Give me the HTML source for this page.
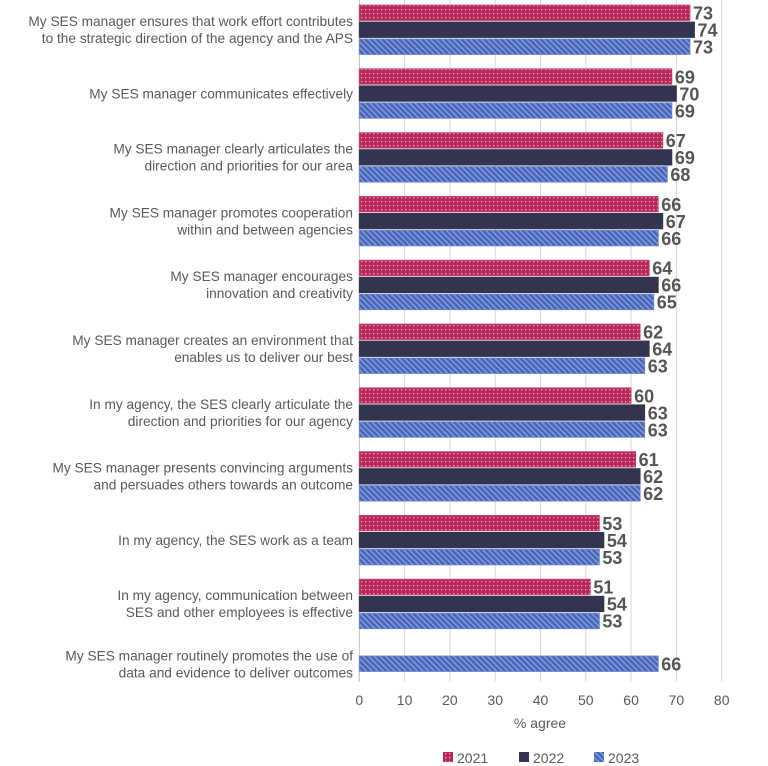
<!DOCTYPE html>
<html><head><meta charset="utf-8"><style>
html,body{margin:0;padding:0;background:#fff;}
svg{display:block;font-family:"Liberation Sans",Arial,sans-serif;}
</style></head><body>
<svg id="c" width="768" height="766" viewBox="0 0 768 766" xmlns="http://www.w3.org/2000/svg">
<defs>
<pattern id="p21" width="4" height="4" patternUnits="userSpaceOnUse">
<rect width="4" height="4" fill="#b8285c"/>
<rect x="1" y="1" width="1.3" height="1.3" fill="#e9a3bd"/>
</pattern>
<pattern id="p23" width="4" height="4" patternUnits="userSpaceOnUse" patternTransform="rotate(-45)">
<rect width="4" height="4" fill="#4866bb"/>
<rect width="1.2" height="4" fill="#8fa6dc"/>
</pattern>
</defs>
<g id="g"></g>
</svg>
<script>
(function(){
var x0=359.3,s=4.53,out='';
for(var k=0;k<=8;k++){var x=x0+k*45.3;out+='<line x1="'+x+'" y1="0" x2="'+x+'" y2="682" stroke="'+(k==0?'#bfbfbf':'#d9d9d9')+'" stroke-width="1"/>';
out+='<text x="'+x+'" y="705" font-size="14" fill="#595959" text-anchor="middle">'+(k*10)+'</text>';}
var d=[
[["My SES manager ensures that work effort contributes","to the strategic direction of the agency and the APS"],[73,74,73]],
[["My SES manager communicates effectively"],[69,70,69]],
[["My SES manager clearly articulates the","direction and priorities for our area"],[67,69,68]],
[["My SES manager promotes cooperation","within and between agencies"],[66,67,66]],
[["My SES manager encourages","innovation and creativity"],[64,66,65]],
[["My SES manager creates an environment that","enables us to deliver our best"],[62,64,63]],
[["In my agency, the SES clearly articulate the","direction and priorities for our agency"],[60,63,63]],
[["My SES manager presents convincing arguments","and persuades others towards an outcome"],[61,62,62]],
[["In my agency, the SES work as a team"],[53,54,53]],
[["In my agency, communication between","SES and other employees is effective"],[51,54,53]],
[["My SES manager routinely promotes the use of","data and evidence to deliver outcomes"],[null,null,66]]];
var fills=['url(#p21)','#33344f','url(#p23)'],strokes=['#c9456f','#33344f','#6b86cc'];
function bar(y,v,i){var w=v*s;out+='<rect x="'+x0+'" y="'+y+'" width="'+w+'" height="15.5" fill="'+fills[i]+'" stroke="'+strokes[i]+'" stroke-width="0.8"/>';
out+='<text x="'+(x0+w+3)+'" y="'+(y+14.5)+'" font-size="18" font-weight="bold" fill="#555">'+v+'</text>';}
for(var g=0;g<11;g++){var ty=5+63.8*g,c=ty+24.5;
if(g==10){bar(656,66,2);c=664;}else{for(var i=0;i<3;i++)bar(ty+17*i,d[g][1][i],i);}
var L=d[g][0];
if(L.length==1)out+='<text x="353" y="'+(c+5)+'" font-size="13.7" fill="#595959" text-anchor="end">'+L[0]+'</text>';
else{out+='<text x="353" y="'+(c-3.5)+'" font-size="13.7" fill="#595959" text-anchor="end">'+L[0]+'</text>';
out+='<text x="353" y="'+(c+13.5)+'" font-size="13.7" fill="#595959" text-anchor="end">'+L[1]+'</text>';}}
out+='<text x="540" y="728" font-size="14" fill="#595959" text-anchor="middle">% agree</text>';
var lx=[443,519,594],ly=['2021','2022','2023'];
for(var i=0;i<3;i++){out+='<rect x="'+lx[i]+'" y="752" width="10" height="10" fill="'+fills[i]+'"/>';
out+='<text x="'+(lx[i]+14)+'" y="763" font-size="14" fill="#595959">'+ly[i]+'</text>';}
document.getElementById('g').innerHTML=out;
})();
</script>
</body></html>
